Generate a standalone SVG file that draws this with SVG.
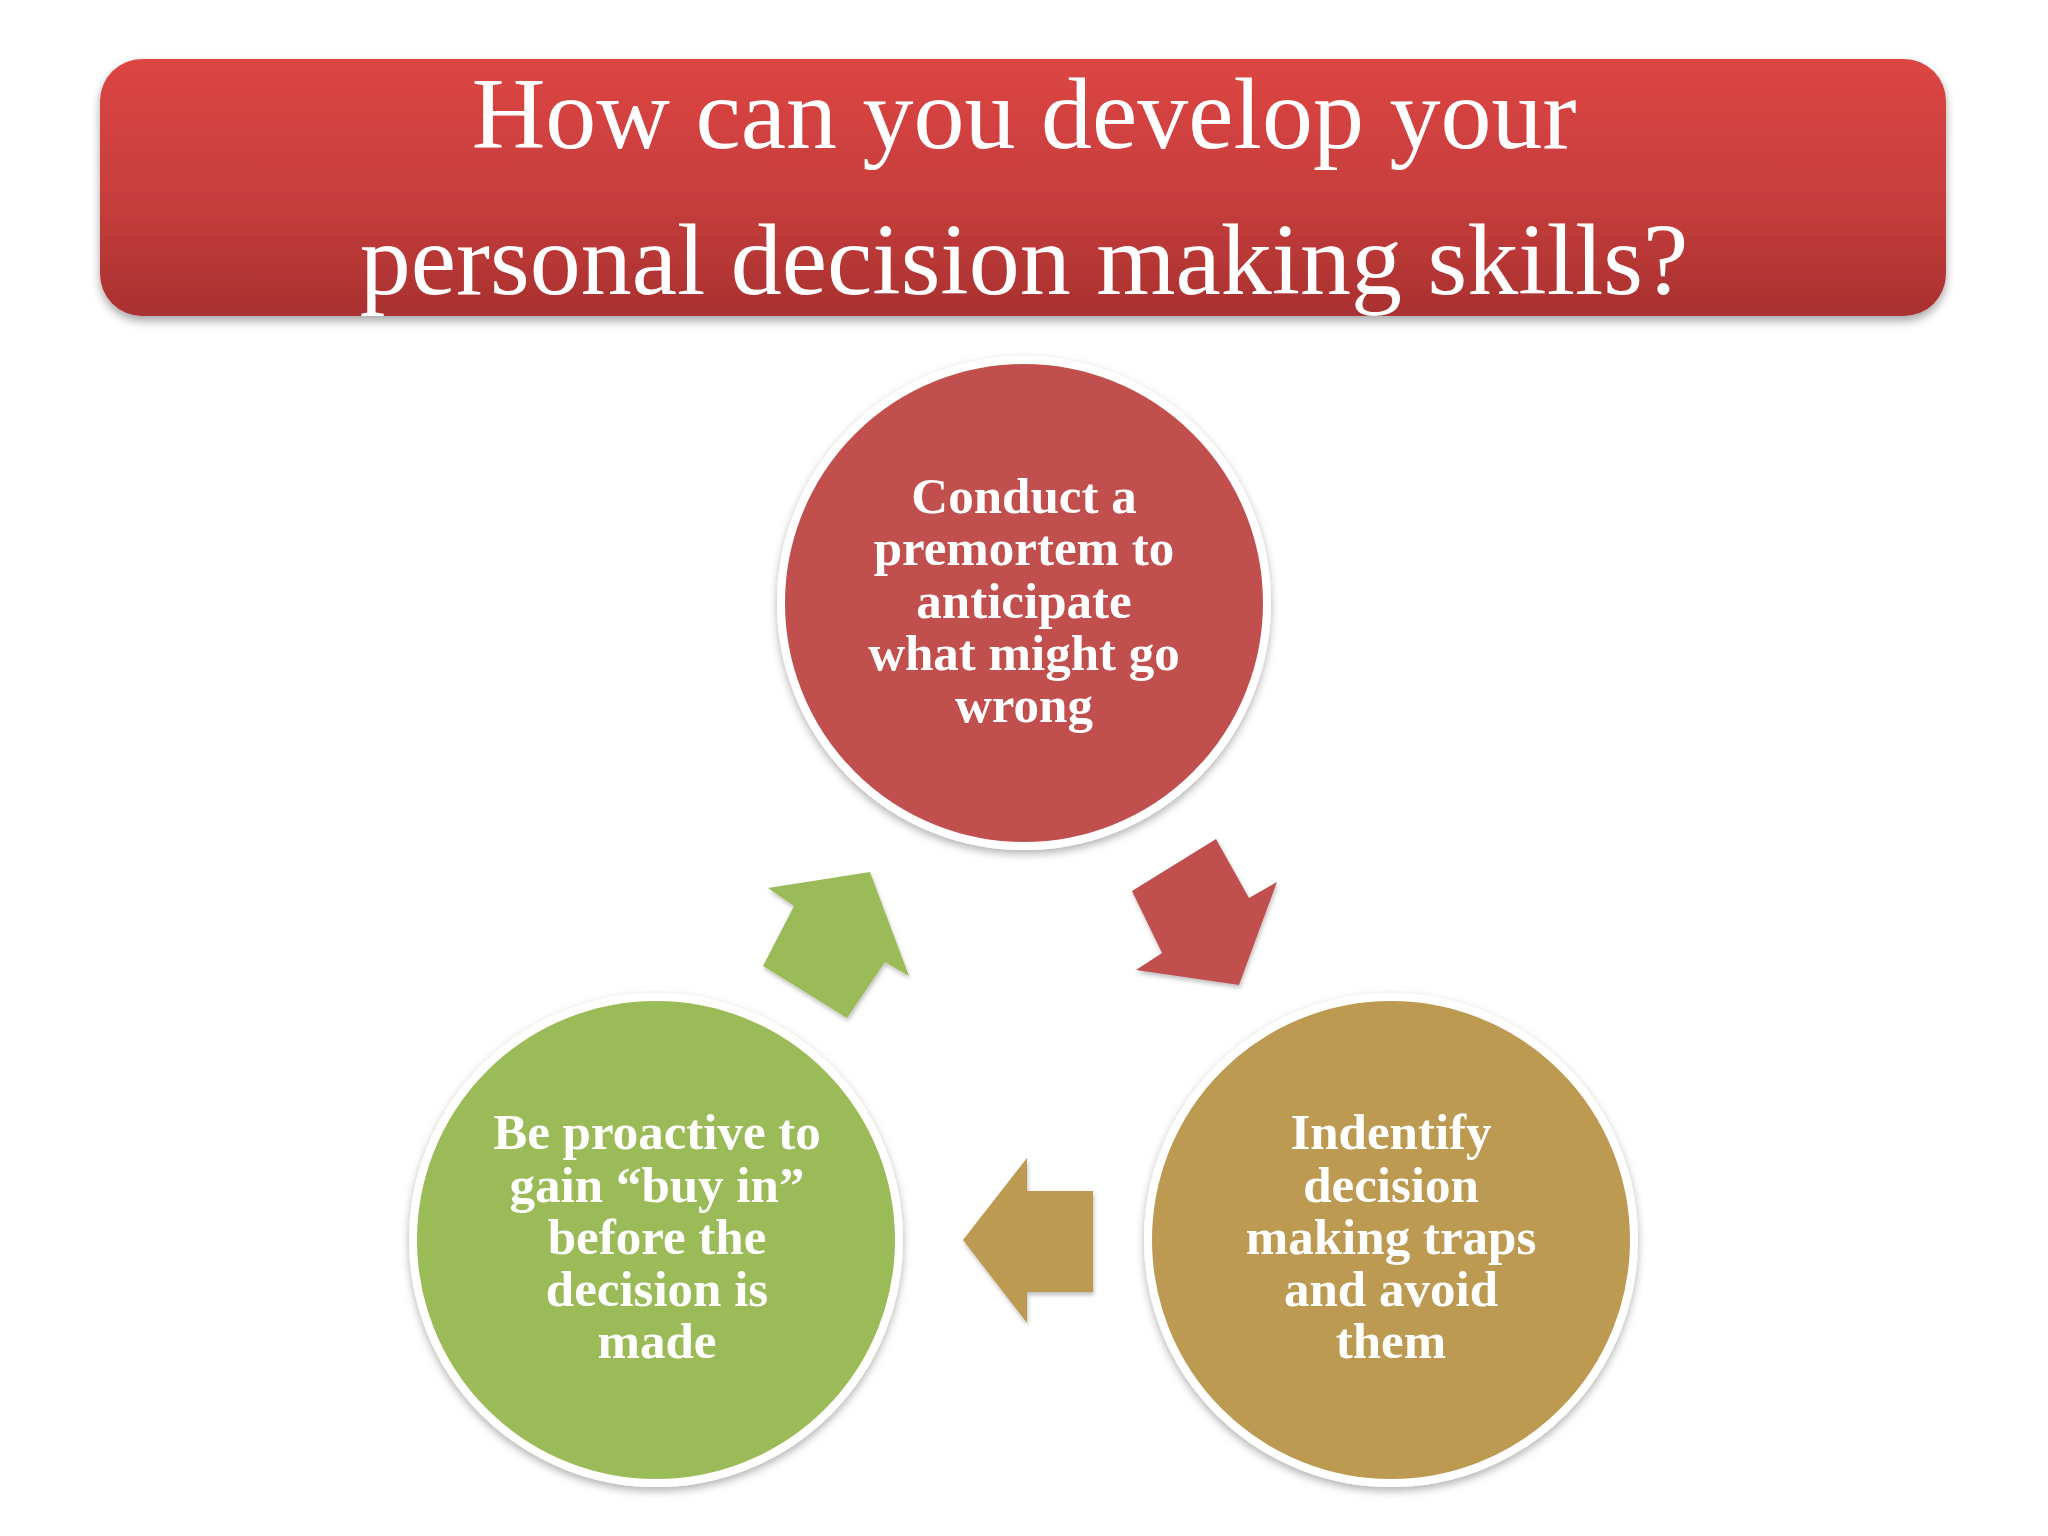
<svg xmlns="http://www.w3.org/2000/svg" width="2048" height="1536" viewBox="0 0 2048 1536">
<defs>
<linearGradient id="bannerGrad" x1="0" y1="0" x2="0" y2="1">
<stop offset="0" stop-color="#dc4543"/>
<stop offset="0.5" stop-color="#c93f3d"/>
<stop offset="1" stop-color="#a93130"/>
</linearGradient>
<filter id="shadow" x="-10%" y="-10%" width="120%" height="130%">
<feDropShadow dx="0" dy="5" stdDeviation="5" flood-color="#000000" flood-opacity="0.35"/>
</filter>
<filter id="cshadow" x="-10%" y="-10%" width="120%" height="125%">
<feDropShadow dx="0" dy="4" stdDeviation="4" flood-color="#000000" flood-opacity="0.3"/>
</filter>
<filter id="ashadow" x="-10%" y="-10%" width="130%" height="130%">
<feDropShadow dx="1" dy="3" stdDeviation="2" flood-color="#000000" flood-opacity="0.25"/>
</filter>
</defs>
<style>
.title { font-family: "Liberation Serif", "Times New Roman", serif; font-size: 102px; fill: #ffffff; text-anchor: middle; }
.label { font-family: "Liberation Serif", "Times New Roman", serif; font-size: 51px; font-weight: bold; fill: #ffffff; text-anchor: middle; }
.ring { stroke: #ffffff; stroke-width: 8; filter: url(#cshadow); }
</style>
<rect width="2048" height="1536" fill="#ffffff"/>

<g id="title">
<rect x="100" y="59" width="1846" height="257" rx="42" ry="42" fill="url(#bannerGrad)" filter="url(#shadow)"/>
<text class="title" x="1024" y="148">How can you develop your</text>
<text class="title" x="1024" y="294">personal decision making skills?</text>
</g>

<g id="connectors">
<polygon id="arrow-red" points="1132,891 1216,839 1249,898 1277,882 1239,985 1136,970 1162,953" fill="#c0504d" filter="url(#ashadow)"/>
<polygon id="arrow-gold" points="963,1240 1027,1158 1027,1191 1093,1191 1093,1292 1027,1292 1027,1323" fill="#bc9a51" filter="url(#ashadow)"/>
<polygon id="arrow-green" points="870,872 909,976 885,962 847,1018 763,966 794,906 768,888" fill="#9bbb59" filter="url(#ashadow)"/>
</g>

<g id="node-top">
<circle class="ring" cx="1024" cy="603" r="243" fill="#c0504d"/>
<text class="label" x="1024" y="513">Conduct a</text>
<text class="label" x="1024" y="565">premortem to</text>
<text class="label" x="1024" y="618">anticipate</text>
<text class="label" x="1024" y="670">what might go</text>
<text class="label" x="1024" y="722">wrong</text>
</g>

<g id="node-right">
<circle class="ring" cx="1391" cy="1240" r="243" fill="#bc9a51"/>
<text class="label" x="1391" y="1149">Indentify</text>
<text class="label" x="1391" y="1202">decision</text>
<text class="label" x="1391" y="1254">making traps</text>
<text class="label" x="1391" y="1306">and avoid</text>
<text class="label" x="1391" y="1358">them</text>
</g>

<g id="node-left">
<circle class="ring" cx="656" cy="1240" r="243" fill="#9bbb59"/>
<text class="label" x="657" y="1149">Be proactive to</text>
<text class="label" x="657" y="1202">gain “buy in”</text>
<text class="label" x="657" y="1254">before the</text>
<text class="label" x="657" y="1306">decision is</text>
<text class="label" x="657" y="1358">made</text>
</g>
</svg>
